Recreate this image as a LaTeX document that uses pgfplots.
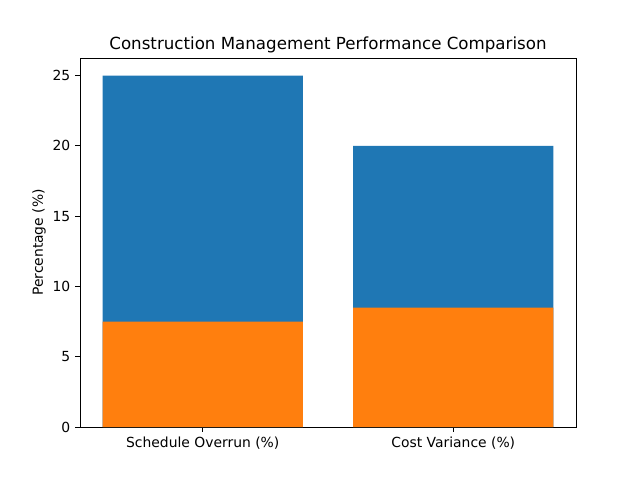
\documentclass[border=0pt]{standalone}
\usepackage{pgfplots}
\pgfplotsset{compat=1.18}
\usepackage{fontspec}
\setmainfont{DejaVu Sans}

\definecolor{mplblue}{HTML}{1F77B4}
\definecolor{mplorange}{HTML}{FF7F0E}

\begin{document}
\begin{tikzpicture}
\begin{axis}[
    scale only axis,
    width=357.12pt,
    height=265.68pt,
    xmin=-0.49, xmax=1.49,
    ymin=0, ymax=26.25,
    xtick={0,1},
    xticklabels={Schedule Overrun (\%), Cost Variance (\%)},
    ytick={0,5,10,15,20,25},
    tick align=outside,
    major tick length=3.5pt,
    tick style={black, line width=0.6pt},
    axis line style={line width=0.6pt},
    xtick pos=bottom,
    ytick pos=left,
    ylabel={Percentage (\%)},
    ylabel style={xshift=0pt, yshift=-2pt},
    title={Construction Management Performance Comparison},
    title style={font=\fontsize{12}{14}\selectfont, yshift=-6pt},
    tick label style={font=\fontsize{10}{12}\selectfont},
    label style={font=\fontsize{10}{12}\selectfont},
    /pgf/number format/assume math mode=true,
    ybar, bar width=0.8, bar shift=0pt,
]
% not stacked: orange drawn over blue
\addplot[fill=mplblue, draw=none] coordinates {(0,25) (1,20)};
\addplot[fill=mplorange, draw=none] coordinates {(0,7.5) (1,8.5)};
\end{axis}
\useasboundingbox ([xshift=-57.6pt, yshift=-38.16pt]current axis.south west)
    rectangle ([xshift=46.08pt, yshift=41.76pt]current axis.north east);
\end{tikzpicture}
\end{document}
